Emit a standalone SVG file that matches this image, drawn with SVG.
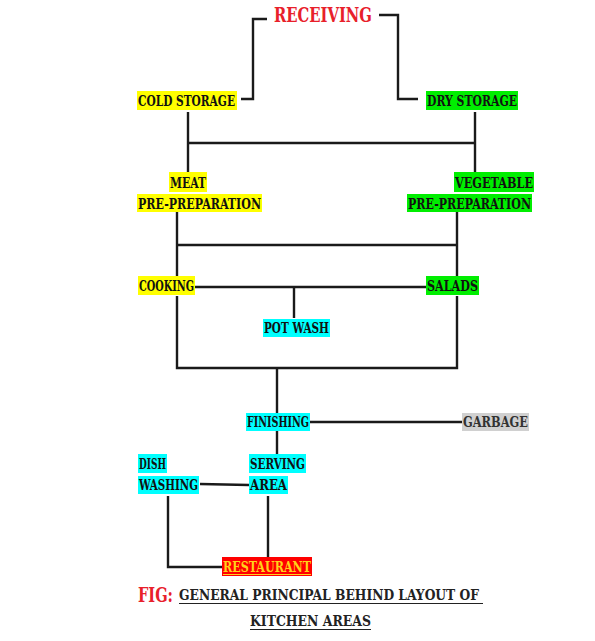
<svg xmlns="http://www.w3.org/2000/svg" width="595" height="641" viewBox="0 0 595 641">
<style>
.lbl{font-family:"DejaVu Serif Condensed","DejaVu Serif","Liberation Serif",serif;font-weight:bold;font-size:14px;fill:#111}
.ln{fill:none;stroke:#1a1a1a;stroke-width:2.4;stroke-linejoin:miter}
.y{fill:#ffff00}.g{fill:#00ee00}.c{fill:#00ffff}.gr{fill:#d0d0d0}.r{fill:#ff0000}
.cap{font-family:"DejaVu Serif Condensed","DejaVu Serif","Liberation Serif",serif;font-weight:bold;font-size:15px;fill:#222}
.big{font-family:"DejaVu Serif Condensed","DejaVu Serif","Liberation Serif",serif;font-weight:bold;font-size:20px;fill:#e8202a}
.ul{stroke:#222;stroke-width:1.2}
</style>
<rect width="595" height="641" fill="#ffffff"/>
<g id="connectors">
<polyline class="ln" points="267,19 253,19 253,99 241,99"/>
<polyline class="ln" points="379,15 398,15 398,99 418,99"/>
<line class="ln" x1="188" y1="112" x2="188" y2="172"/>
<line class="ln" x1="475" y1="112" x2="475" y2="172"/>
<line class="ln" x1="188" y1="143" x2="475" y2="143"/>
<line class="ln" x1="177" y1="212" x2="177" y2="276"/>
<line class="ln" x1="457" y1="212" x2="457" y2="276"/>
<line class="ln" x1="177" y1="245" x2="457" y2="245"/>
<line class="ln" x1="195" y1="287" x2="426" y2="287"/>
<line class="ln" x1="294" y1="287" x2="294" y2="318"/>
<polyline class="ln" points="177,296 177,368 457,368 457,296"/>
<line class="ln" x1="277" y1="368" x2="277" y2="413"/>
<line class="ln" x1="310" y1="422" x2="462" y2="422"/>
<line class="ln" x1="277" y1="431" x2="277" y2="454"/>
<line class="ln" x1="200" y1="484" x2="249" y2="485"/>
<polyline class="ln" points="168,496 168,567 223,567"/>
<line class="ln" x1="268" y1="496" x2="268" y2="557"/>
</g>
<g id="receiving">
<text class="big" x="274" y="22" textLength="98" lengthAdjust="spacingAndGlyphs">RECEIVING</text>
</g>
<g id="cold-storage">
<rect class="y" x="137" y="91" width="100" height="19"/>
<text class="lbl" x="138" y="106" textLength="97" lengthAdjust="spacingAndGlyphs">COLD STORAGE</text>
</g>
<g id="dry-storage">
<rect class="g" x="426" y="91" width="92" height="19"/>
<text class="lbl" x="427" y="106" textLength="90" lengthAdjust="spacingAndGlyphs">DRY STORAGE</text>
</g>
<g id="meat-pre-preparation">
<rect class="y" x="169" y="172" width="38" height="20"/>
<text class="lbl" x="170" y="188" textLength="36" lengthAdjust="spacingAndGlyphs">MEAT</text>
<rect class="y" x="137" y="194" width="125" height="18"/>
<text class="lbl" x="138" y="209" textLength="123" lengthAdjust="spacingAndGlyphs">PRE-PREPARATION</text>
</g>
<g id="vegetable-pre-preparation">
<rect class="g" x="454" y="172" width="80" height="20"/>
<text class="lbl" x="455" y="188" textLength="78" lengthAdjust="spacingAndGlyphs">VEGETABLE</text>
<rect class="g" x="407" y="194" width="125" height="18"/>
<text class="lbl" x="408" y="209" textLength="123" lengthAdjust="spacingAndGlyphs">PRE-PREPARATION</text>
</g>
<g id="cooking">
<rect class="y" x="138" y="276" width="57" height="19"/>
<text class="lbl" x="139" y="291" textLength="55" lengthAdjust="spacingAndGlyphs">COOKING</text>
</g>
<g id="salads">
<rect class="g" x="426" y="276" width="53" height="19"/>
<text class="lbl" x="427" y="291" textLength="51" lengthAdjust="spacingAndGlyphs">SALADS</text>
</g>
<g id="pot-wash">
<rect class="c" x="263" y="319" width="67" height="18"/>
<text class="lbl" x="264" y="333" textLength="65" lengthAdjust="spacingAndGlyphs">POT WASH</text>
</g>
<g id="finishing">
<rect class="c" x="246" y="413" width="64" height="18"/>
<text class="lbl" x="247" y="427" textLength="62" lengthAdjust="spacingAndGlyphs">FINISHING</text>
</g>
<g id="garbage">
<rect class="gr" x="462" y="413" width="67" height="18"/>
<text class="lbl" x="463" y="427" textLength="65" lengthAdjust="spacingAndGlyphs" style="fill:#333">GARBAGE</text>
</g>
<g id="dish-washing">
<rect class="c" x="138" y="454" width="29" height="19"/>
<text class="lbl" x="139" y="469" textLength="27" lengthAdjust="spacingAndGlyphs">DISH</text>
<rect class="c" x="138" y="476" width="61" height="18"/>
<text class="lbl" x="139" y="490" textLength="59" lengthAdjust="spacingAndGlyphs">WASHING</text>
</g>
<g id="serving-area">
<rect class="c" x="249" y="454" width="57" height="19"/>
<text class="lbl" x="250" y="469" textLength="55" lengthAdjust="spacingAndGlyphs">SERVING</text>
<rect class="c" x="249" y="476" width="39" height="18"/>
<text class="lbl" x="250" y="490" textLength="37" lengthAdjust="spacingAndGlyphs">AREA</text>
</g>
<g id="restaurant">
<rect class="r" x="222" y="557" width="90" height="19"/>
<text class="lbl" x="223" y="572" textLength="88" lengthAdjust="spacingAndGlyphs" style="fill:#ffd21a">RESTAURANT</text>
<line x1="223" y1="574.5" x2="311" y2="574.5" stroke="#ffd21a" stroke-width="1"/>
</g>
<g id="caption">
<text class="big" x="138" y="602" textLength="35" lengthAdjust="spacingAndGlyphs">FIG:</text>
<text class="cap" x="179" y="600" textLength="300" lengthAdjust="spacingAndGlyphs">GENERAL PRINCIPAL BEHIND LAYOUT OF</text>
<line class="ul" x1="179" y1="603.5" x2="483" y2="603.5"/>
<text class="cap" x="250" y="626" textLength="121" lengthAdjust="spacingAndGlyphs">KITCHEN AREAS</text>
<line class="ul" x1="250" y1="629.5" x2="371" y2="629.5"/>
</g>
</svg>
